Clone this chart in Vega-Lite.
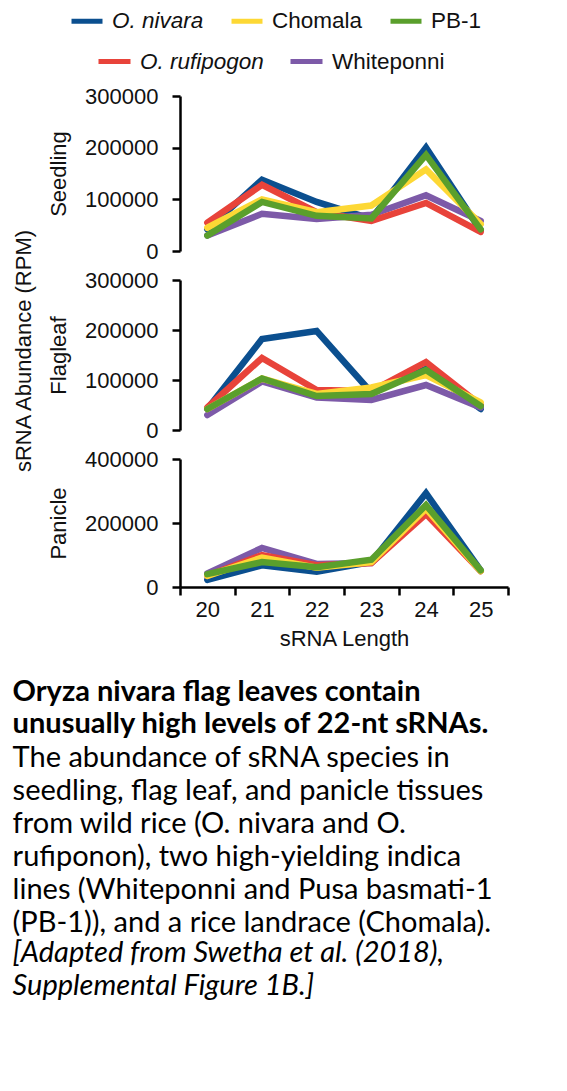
{
  "$schema": "https://vega.github.io/schema/vega-lite/v6.json",
  "padding": {"left": 12, "top": 3, "right": 5, "bottom": 5},
  "config": {
    "font": "Liberation Sans",
    "view": {"stroke": null},
    "axis": {
      "labelFont": "Liberation Sans", "labelFontSize": 22, "labelColor": "#111",
      "domainColor": "#000", "domainWidth": 2.5, "tickColor": "#000", "tickWidth": 2.5, "tickSize": 8,
      "labelPadding": 14, "grid": false,
      "titleFont": "Liberation Sans", "titleFontWeight": "normal", "titleFontSize": 22, "titleColor": "#111", "titlePadding": 14
    },
    "legend": {
      "labelFont": "Liberation Sans", "labelFontSize": 22.5, "labelColor": "#111"
    }
  },
  "datasets": {
    "rna": [
      {"tissue": "Seedling", "length": 20, "variety": "O. nivara", "rpm": 42000},
      {"tissue": "Seedling", "length": 21, "variety": "O. nivara", "rpm": 138000},
      {"tissue": "Seedling", "length": 22, "variety": "O. nivara", "rpm": 95000},
      {"tissue": "Seedling", "length": 23, "variety": "O. nivara", "rpm": 62000},
      {"tissue": "Seedling", "length": 24, "variety": "O. nivara", "rpm": 200000},
      {"tissue": "Seedling", "length": 25, "variety": "O. nivara", "rpm": 40000},
      {"tissue": "Seedling", "length": 20, "variety": "Whiteponni", "rpm": 30000},
      {"tissue": "Seedling", "length": 21, "variety": "Whiteponni", "rpm": 72000},
      {"tissue": "Seedling", "length": 22, "variety": "Whiteponni", "rpm": 62000},
      {"tissue": "Seedling", "length": 23, "variety": "Whiteponni", "rpm": 70000},
      {"tissue": "Seedling", "length": 24, "variety": "Whiteponni", "rpm": 108000},
      {"tissue": "Seedling", "length": 25, "variety": "Whiteponni", "rpm": 58000},
      {"tissue": "Seedling", "length": 20, "variety": "O. rufipogon", "rpm": 55000},
      {"tissue": "Seedling", "length": 21, "variety": "O. rufipogon", "rpm": 128000},
      {"tissue": "Seedling", "length": 22, "variety": "O. rufipogon", "rpm": 75000},
      {"tissue": "Seedling", "length": 23, "variety": "O. rufipogon", "rpm": 58000},
      {"tissue": "Seedling", "length": 24, "variety": "O. rufipogon", "rpm": 93000},
      {"tissue": "Seedling", "length": 25, "variety": "O. rufipogon", "rpm": 37000},
      {"tissue": "Seedling", "length": 20, "variety": "Chomala", "rpm": 45000},
      {"tissue": "Seedling", "length": 21, "variety": "Chomala", "rpm": 100000},
      {"tissue": "Seedling", "length": 22, "variety": "Chomala", "rpm": 75000},
      {"tissue": "Seedling", "length": 23, "variety": "Chomala", "rpm": 88000},
      {"tissue": "Seedling", "length": 24, "variety": "Chomala", "rpm": 158000},
      {"tissue": "Seedling", "length": 25, "variety": "Chomala", "rpm": 52000},
      {"tissue": "Seedling", "length": 20, "variety": "PB-1", "rpm": 30000},
      {"tissue": "Seedling", "length": 21, "variety": "PB-1", "rpm": 95000},
      {"tissue": "Seedling", "length": 22, "variety": "PB-1", "rpm": 68000},
      {"tissue": "Seedling", "length": 23, "variety": "PB-1", "rpm": 63000},
      {"tissue": "Seedling", "length": 24, "variety": "PB-1", "rpm": 186000},
      {"tissue": "Seedling", "length": 25, "variety": "PB-1", "rpm": 42000},
      {"tissue": "Flagleaf", "length": 20, "variety": "O. nivara", "rpm": 42000},
      {"tissue": "Flagleaf", "length": 21, "variety": "O. nivara", "rpm": 182000},
      {"tissue": "Flagleaf", "length": 22, "variety": "O. nivara", "rpm": 198000},
      {"tissue": "Flagleaf", "length": 23, "variety": "O. nivara", "rpm": 75000},
      {"tissue": "Flagleaf", "length": 24, "variety": "O. nivara", "rpm": 122000},
      {"tissue": "Flagleaf", "length": 25, "variety": "O. nivara", "rpm": 42000},
      {"tissue": "Flagleaf", "length": 20, "variety": "Whiteponni", "rpm": 30000},
      {"tissue": "Flagleaf", "length": 21, "variety": "Whiteponni", "rpm": 97000},
      {"tissue": "Flagleaf", "length": 22, "variety": "Whiteponni", "rpm": 65000},
      {"tissue": "Flagleaf", "length": 23, "variety": "Whiteponni", "rpm": 60000},
      {"tissue": "Flagleaf", "length": 24, "variety": "Whiteponni", "rpm": 90000},
      {"tissue": "Flagleaf", "length": 25, "variety": "Whiteponni", "rpm": 45000},
      {"tissue": "Flagleaf", "length": 20, "variety": "O. rufipogon", "rpm": 45000},
      {"tissue": "Flagleaf", "length": 21, "variety": "O. rufipogon", "rpm": 144000},
      {"tissue": "Flagleaf", "length": 22, "variety": "O. rufipogon", "rpm": 80000},
      {"tissue": "Flagleaf", "length": 23, "variety": "O. rufipogon", "rpm": 78000},
      {"tissue": "Flagleaf", "length": 24, "variety": "O. rufipogon", "rpm": 136000},
      {"tissue": "Flagleaf", "length": 25, "variety": "O. rufipogon", "rpm": 50000},
      {"tissue": "Flagleaf", "length": 20, "variety": "Chomala", "rpm": 42000},
      {"tissue": "Flagleaf", "length": 21, "variety": "Chomala", "rpm": 103000},
      {"tissue": "Flagleaf", "length": 22, "variety": "Chomala", "rpm": 72000},
      {"tissue": "Flagleaf", "length": 23, "variety": "Chomala", "rpm": 85000},
      {"tissue": "Flagleaf", "length": 24, "variety": "Chomala", "rpm": 110000},
      {"tissue": "Flagleaf", "length": 25, "variety": "Chomala", "rpm": 55000},
      {"tissue": "Flagleaf", "length": 20, "variety": "PB-1", "rpm": 42000},
      {"tissue": "Flagleaf", "length": 21, "variety": "PB-1", "rpm": 103000},
      {"tissue": "Flagleaf", "length": 22, "variety": "PB-1", "rpm": 68000},
      {"tissue": "Flagleaf", "length": 23, "variety": "PB-1", "rpm": 72000},
      {"tissue": "Flagleaf", "length": 24, "variety": "PB-1", "rpm": 120000},
      {"tissue": "Flagleaf", "length": 25, "variety": "PB-1", "rpm": 48000},
      {"tissue": "Panicle", "length": 20, "variety": "O. nivara", "rpm": 22000},
      {"tissue": "Panicle", "length": 21, "variety": "O. nivara", "rpm": 68000},
      {"tissue": "Panicle", "length": 22, "variety": "O. nivara", "rpm": 48000},
      {"tissue": "Panicle", "length": 23, "variety": "O. nivara", "rpm": 78000},
      {"tissue": "Panicle", "length": 24, "variety": "O. nivara", "rpm": 293000},
      {"tissue": "Panicle", "length": 25, "variety": "O. nivara", "rpm": 52000},
      {"tissue": "Panicle", "length": 20, "variety": "Whiteponni", "rpm": 42000},
      {"tissue": "Panicle", "length": 21, "variety": "Whiteponni", "rpm": 122000},
      {"tissue": "Panicle", "length": 22, "variety": "Whiteponni", "rpm": 72000},
      {"tissue": "Panicle", "length": 23, "variety": "Whiteponni", "rpm": 75000},
      {"tissue": "Panicle", "length": 24, "variety": "Whiteponni", "rpm": 240000},
      {"tissue": "Panicle", "length": 25, "variety": "Whiteponni", "rpm": 50000},
      {"tissue": "Panicle", "length": 20, "variety": "O. rufipogon", "rpm": 35000},
      {"tissue": "Panicle", "length": 21, "variety": "O. rufipogon", "rpm": 100000},
      {"tissue": "Panicle", "length": 22, "variety": "O. rufipogon", "rpm": 68000},
      {"tissue": "Panicle", "length": 23, "variety": "O. rufipogon", "rpm": 75000},
      {"tissue": "Panicle", "length": 24, "variety": "O. rufipogon", "rpm": 228000},
      {"tissue": "Panicle", "length": 25, "variety": "O. rufipogon", "rpm": 50000},
      {"tissue": "Panicle", "length": 20, "variety": "Chomala", "rpm": 35000},
      {"tissue": "Panicle", "length": 21, "variety": "Chomala", "rpm": 92000},
      {"tissue": "Panicle", "length": 22, "variety": "Chomala", "rpm": 60000},
      {"tissue": "Panicle", "length": 23, "variety": "Chomala", "rpm": 78000},
      {"tissue": "Panicle", "length": 24, "variety": "Chomala", "rpm": 245000},
      {"tissue": "Panicle", "length": 25, "variety": "Chomala", "rpm": 50000},
      {"tissue": "Panicle", "length": 20, "variety": "PB-1", "rpm": 40000},
      {"tissue": "Panicle", "length": 21, "variety": "PB-1", "rpm": 78000},
      {"tissue": "Panicle", "length": 22, "variety": "PB-1", "rpm": 62000},
      {"tissue": "Panicle", "length": 23, "variety": "PB-1", "rpm": 85000},
      {"tissue": "Panicle", "length": 24, "variety": "PB-1", "rpm": 256000},
      {"tissue": "Panicle", "length": 25, "variety": "PB-1", "rpm": 52000}
    ]
  },
  "title": {
    "text": ["[Adapted from Swetha et al. (2018),", "Supplemental Figure 1B.]"],
    "orient": "bottom", "anchor": "start", "frame": "bounds",
    "font": "Lato", "fontSize": 29, "fontStyle": "italic", "fontWeight": "normal",
    "lineHeight": 33, "color": "#000", "offset": 1
  },
  "vconcat": [
    {
      "title": {
        "text": ["Oryza nivara flag leaves contain", "unusually high levels of 22-nt sRNAs."],
        "subtitle": [
          "The abundance of sRNA species in",
          "seedling, flag leaf, and panicle tissues",
          "from wild rice (O. nivara and O.",
          "rufiponon), two high-yielding indica",
          "lines (Whiteponni and Pusa basmati-1",
          "(PB-1)), and a rice landrace (Chomala)."
        ],
        "orient": "bottom", "anchor": "start", "frame": "bounds",
        "font": "Lato", "fontSize": 29, "fontWeight": "bold", "lineHeight": 32, "color": "#000",
        "subtitleFont": "Lato", "subtitleFontSize": 29, "subtitleLineHeight": 33, "subtitleColor": "#000",
        "subtitlePadding": 5, "offset": 29
      },
      "vconcat": [
        {
          "title": {
            "text": "sRNA Abundance (RPM)", "orient": "left", "anchor": "middle", "dx": 16,
            "font": "Liberation Sans", "fontSize": 22, "fontWeight": "normal", "color": "#111", "offset": 12
          },
          "spacing": 7,
          "vconcat": [
            {
              "width": 328, "height": 155,
              "data": {"name": "rna"},
              "transform": [{"filter": "datum.tissue === 'Seedling'"}],
              "layer": [
                {
                  "mark": {"type": "line", "strokeWidth": 6.5, "strokeJoin": "miter", "strokeCap": "round"},
                  "encoding": {
                    "x": {"field": "length", "type": "ordinal", "scale": {"type": "band", "paddingInner": 0, "paddingOuter": 0}, "axis": null},
                    "y": {"field": "rpm", "type": "quantitative", "scale": {"domain": [0, 300000], "nice": false},
                          "axis": {"values": [0, 100000, 200000, 300000], "format": "d", "title": "Seedling"}},
                    "color": {"field": "variety", "type": "nominal",
                      "scale": {"domain": ["O. nivara", "Chomala", "PB-1", "O. rufipogon", "Whiteponni"],
                                "range": ["#0b4f8f", "#fdd835", "#5a9f2c", "#e8433a", "#7d5aa8"]},
                      "legend": {
                        "values": ["O. nivara", "Chomala", "PB-1"],
                        "orient": "none", "legendX": -111, "legendY": -93,
                        "direction": "horizontal", "title": null,
                        "symbolType": "stroke", "symbolStrokeWidth": 5, "symbolSize": 961,
                        "labelFontSize": 22.5, "labelOffset": 7, "columnPadding": 17,
                        "labelFontStyle": {"expr": "indexof(datum.label, 'O. ') === 0 ? 'italic' : 'normal'"}
                      }}
                  }
                },
                {
                  "transform": [{"filter": "false"}],
                  "mark": {"type": "point", "opacity": 1},
                  "encoding": {
                    "stroke": {"field": "variety", "type": "nominal",
                      "scale": {"domain": ["O. rufipogon", "Whiteponni"], "range": ["#e8433a", "#7d5aa8"]},
                      "legend": {
                        "orient": "none", "legendX": -84, "legendY": -53,
                        "direction": "horizontal", "title": null,
                        "symbolType": "stroke", "symbolStrokeWidth": 5, "symbolSize": 1024, "symbolOpacity": 1,
                        "labelFontSize": 22.5, "labelOffset": 7, "columnPadding": 16,
                        "labelFontStyle": {"expr": "indexof(datum.label, 'O. ') === 0 ? 'italic' : 'normal'"}
                      }}
                  }
                }
              ]
            },
            {
              "width": 328, "height": 150,
              "data": {"name": "rna"},
              "transform": [{"filter": "datum.tissue === 'Flagleaf'"}],
              "mark": {"type": "line", "strokeWidth": 6.5, "strokeJoin": "miter", "strokeCap": "round"},
              "encoding": {
                "x": {"field": "length", "type": "ordinal", "scale": {"type": "band", "paddingInner": 0, "paddingOuter": 0}, "axis": null},
                "y": {"field": "rpm", "type": "quantitative", "scale": {"domain": [0, 300000], "nice": false},
                      "axis": {"values": [0, 100000, 200000, 300000], "format": "d", "title": "Flagleaf"}},
                "color": {"field": "variety", "type": "nominal"}
              }
            },
            {
              "width": 328, "height": 128,
              "data": {"name": "rna"},
              "transform": [{"filter": "datum.tissue === 'Panicle'"}],
              "mark": {"type": "line", "strokeWidth": 6.5, "strokeJoin": "miter", "strokeCap": "round"},
              "encoding": {
                "x": {"field": "length", "type": "ordinal", "scale": {"type": "band", "paddingInner": 0, "paddingOuter": 0},
                      "axis": {"title": "sRNA Length", "tickBand": "extent", "labelAngle": 0, "labelPadding": 4, "titlePadding": 8}},
                "y": {"field": "rpm", "type": "quantitative", "scale": {"domain": [0, 400000], "nice": false},
                      "axis": {"values": [0, 200000, 400000], "format": "d", "title": "Panicle"}},
                "color": {"field": "variety", "type": "nominal"}
              }
            }
          ]
        }
      ]
    }
  ],
  "resolve": {"scale": {"y": "independent", "x": "independent"}}
}
